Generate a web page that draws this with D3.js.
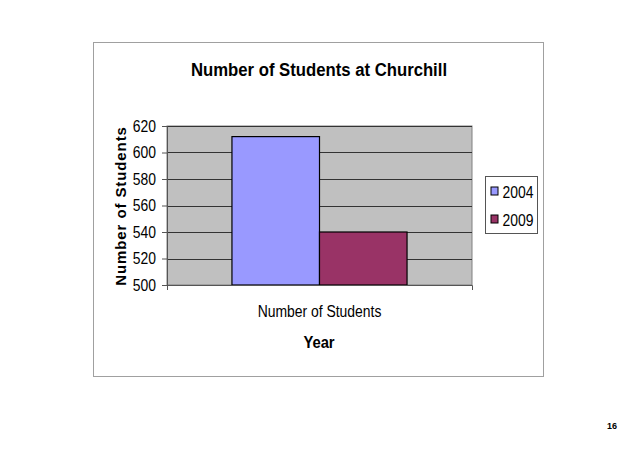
<!DOCTYPE html>
<html>
<head>
<meta charset="utf-8">
<script src="https://cdn.jsdelivr.net/npm/d3@7"></script>
<style>
body { margin: 0; background: #fff; }
svg { display: block; }
</style>
</head>
<body>
<svg id="chart" width="638" height="451"></svg>
<script>
// data
const categories = ["Number of Students"];
const seriesNames = ["2004", "2009"];
const seriesValues = [612, 540];
const seriesColors = ["#9999ff", "#993366"];
const yTicks = [500, 520, 540, 560, 580, 600, 620];

const font = "'Liberation Sans', Arial, sans-serif";
const squeeze = 0.87; // the original text looks like a narrow Arial

const svg = d3.select("#chart");

// place a text at (x,y) squeezed horizontally
function narrowText(sel, x, y, k) {
    return sel.attr("x", 0).attr("y", 0)
        .attr("transform", `translate(${x},${y}) scale(${k || squeeze},1)`)
        .attr("font-family", font);
}

// outer chart frame
svg.append("rect")
    .attr("x", 93.5).attr("y", 42.5)
    .attr("width", 450).attr("height", 334)
    .attr("fill", "#fff")
    .attr("stroke", "#a0a0a0")
    .attr("stroke-width", 1);

const plot = {left: 167, top: 126, width: 305, height: 159};

const y = d3.scaleLinear().domain([500, 620]).range([plot.height, 0]);
const x0 = d3.scaleBand().domain(categories).range([0, plot.width]).paddingOuter(0.371);
const x1 = d3.scaleBand().domain(seriesNames).range([0, x0.bandwidth()]);

const g = svg.append("g").attr("transform", `translate(${plot.left},${plot.top})`);

g.append("rect")
    .attr("width", plot.width).attr("height", plot.height)
    .attr("fill", "#c0c0c0")
    .attr("stroke", "#808080");

g.append("g")
    .selectAll("line")
    .data(yTicks)
    .enter().append("line")
    .attr("x1", 0).attr("x2", plot.width)
    .attr("y1", d => Math.round(y(d)) + 0.5)
    .attr("y2", d => Math.round(y(d)) + 0.5)
    .attr("stroke", "#333")
    .attr("stroke-width", 1);

g.append("g")
    .selectAll("rect")
    .data(seriesNames.map((s, i) => ({s: s, v: seriesValues[i], c: seriesColors[i]})))
    .enter().append("rect")
    .attr("x", d => x0(categories[0]) + x1(d.s))
    .attr("y", d => y(d.v))
    .attr("width", x1.bandwidth())
    .attr("height", d => plot.height - y(d.v))
    .attr("fill", d => d.c)
    .attr("stroke", "#000")
    .attr("stroke-width", 1.2);

// y axis
const yAxis = g.append("g")
    .call(d3.axisLeft(y).tickValues(yTicks).tickSize(5).tickPadding(6));
yAxis.select(".domain").attr("stroke", "#555");
yAxis.selectAll(".tick line").attr("stroke", "#555");
yAxis.selectAll("text")
    .attr("x", 0)
    .attr("transform", `translate(-11,0) scale(${squeeze},1)`)
    .attr("font-family", font)
    .attr("font-size", 16)
    .attr("fill", "#000");

// x axis: just the baseline with end ticks
const xAxis = g.append("g")
    .attr("transform", `translate(0,${plot.height})`)
    .call(d3.axisBottom(d3.scaleLinear().range([0, plot.width])).tickValues([]).tickSizeOuter(5));
xAxis.select(".domain").attr("stroke", "#555");

// title + labels
svg.append("text")
    .call(narrowText, 319, 76, 0.88)
    .attr("text-anchor", "middle")
    .attr("font-weight", "bold")
    .attr("font-size", 19)
    .text("Number of Students at Churchill");

svg.append("text")
    .call(narrowText, plot.left + x0(categories[0]) + x0.bandwidth() / 2, 317)
    .attr("text-anchor", "middle")
    .attr("font-size", 16)
    .text(categories[0]);

svg.append("text")
    .call(narrowText, 319, 348)
    .attr("text-anchor", "middle")
    .attr("font-weight", "bold")
    .attr("font-size", 17)
    .text("Year");

svg.append("text")
    .attr("transform", "translate(126,206) rotate(-90)")
    .attr("text-anchor", "middle")
    .attr("font-family", font)
    .attr("font-weight", "bold")
    .attr("font-size", 15)
    .attr("letter-spacing", 0.9)
    .text("Number of Students");

// legend
const legend = svg.append("g").attr("transform", "translate(485.5,176.5)");
legend.append("rect")
    .attr("width", 52).attr("height", 57)
    .attr("fill", "#fff")
    .attr("stroke", "#555");
const item = legend.selectAll("g.item")
    .data(seriesNames)
    .enter().append("g")
    .attr("class", "item")
    .attr("transform", (d, i) => `translate(0,${15 + i * 28})`);
item.append("rect")
    .attr("x", 5.5).attr("y", -4.5)
    .attr("width", 7).attr("height", 8)
    .attr("fill", (d, i) => seriesColors[i])
    .attr("stroke", "#000");
item.append("text")
    .call(narrowText, 17, 6)
    .attr("font-size", 16)
    .text(d => d);

// page number
svg.append("text")
    .attr("x", 612).attr("y", 429)
    .attr("text-anchor", "middle")
    .attr("font-family", font)
    .attr("font-weight", "bold")
    .attr("font-size", 9)
    .text("16");
</script>
</body>
</html>
